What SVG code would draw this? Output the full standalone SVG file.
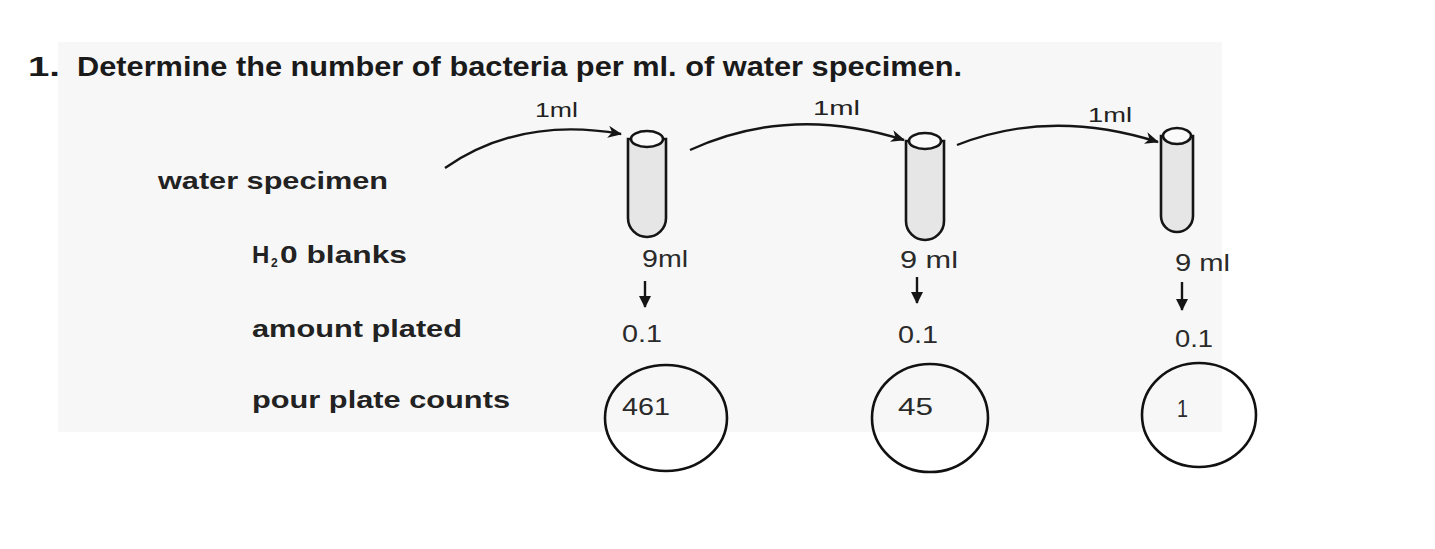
<svg xmlns="http://www.w3.org/2000/svg" width="1435" height="549" viewBox="0 0 1435 549">
<style>
.bold{font-family:"Liberation Sans",Arial,sans-serif;font-weight:bold;fill:#1a1a1a}
.lbl{font-family:"Liberation Sans",Arial,sans-serif;font-weight:bold;font-size:24px;fill:#222}
.val{font-family:"Liberation Sans",Arial,sans-serif;font-size:24px;fill:#2a2a2a}
.ml{font-family:"Liberation Sans",Arial,sans-serif;font-size:21px;fill:#222}
.tube{fill:#e6e6e6;stroke:#151515;stroke-width:2.6}
.cap{fill:#fafafa;stroke:#151515;stroke-width:2.6}
.plate{fill:none;stroke:#111;stroke-width:2.6}
.conn{fill:none;stroke:#151515;stroke-width:2.4}
</style>
<defs>
<marker id="ah" viewBox="0 0 14 12" markerWidth="14" markerHeight="12" refX="13" refY="6" orient="auto" markerUnits="userSpaceOnUse">
<path d="M0,0 L14,6 L0,12 L4,6 z" fill="#151515"/>
</marker>
<marker id="ahd" viewBox="0 0 12 12" markerWidth="12" markerHeight="12" refX="11" refY="6" orient="auto" markerUnits="userSpaceOnUse">
<path d="M0,0 L12,6 L0,12 z" fill="#151515"/>
</marker>
</defs>
<rect x="0" y="0" width="1435" height="549" fill="#ffffff"/>
<rect x="58" y="42" width="1164" height="390" fill="#f7f7f7"/>

<g id="title">
<text class="bold" x="28" y="76" font-size="28" textLength="32" lengthAdjust="spacingAndGlyphs">1.</text>
<text class="bold" x="77" y="76" font-size="27" textLength="885" lengthAdjust="spacingAndGlyphs">Determine the number of bacteria per ml. of water specimen.</text>
</g>

<g id="row-labels">
<text class="lbl" x="158" y="189" textLength="230" lengthAdjust="spacingAndGlyphs">water specimen</text>
<text class="lbl" y="263"><tspan x="252">H</tspan><tspan x="271" dy="4" font-size="12">2</tspan><tspan x="280" dy="-4" textLength="127" lengthAdjust="spacingAndGlyphs">0 blanks</tspan></text>
<text class="lbl" x="252" y="337" textLength="210" lengthAdjust="spacingAndGlyphs">amount plated</text>
<text class="lbl" x="252" y="408" textLength="258" lengthAdjust="spacingAndGlyphs">pour plate counts</text>
</g>

<g id="connectors">
<path class="conn" d="M445,168 Q520,116 621,134" marker-end="url(#ah)"/>
<path class="conn" d="M690,150 Q790,104 904,140" marker-end="url(#ah)"/>
<path class="conn" d="M957,145 Q1050,108 1158,142" marker-end="url(#ah)"/>
<line class="conn" x1="645" y1="281" x2="645" y2="307" marker-end="url(#ahd)"/>
<line class="conn" x1="917" y1="277" x2="917" y2="303" marker-end="url(#ahd)"/>
<line class="conn" x1="1182" y1="282" x2="1182" y2="310" marker-end="url(#ahd)"/>
<text class="ml" x="535" y="117" textLength="43" lengthAdjust="spacingAndGlyphs">1ml</text>
<text class="ml" x="813" y="115" textLength="47" lengthAdjust="spacingAndGlyphs">1ml</text>
<text class="ml" x="1088" y="122" textLength="44" lengthAdjust="spacingAndGlyphs">1ml</text>
</g>

<g id="tube1">
<path class="tube" d="M628,139 V218 A19,19 0 0 0 666,218 V139 Z"/>
<ellipse class="cap" cx="647" cy="139" rx="16" ry="8"/>
<text class="val" x="642" y="267" textLength="46" lengthAdjust="spacingAndGlyphs">9ml</text>
<text class="val" x="622" y="342" textLength="40" lengthAdjust="spacingAndGlyphs">0.1</text>
</g>

<g id="tube2">
<path class="tube" d="M906,141 V221 A19,19 0 0 0 944,221 V141 Z"/>
<ellipse class="cap" cx="925" cy="141" rx="16" ry="8"/>
<text class="val" x="900" y="268" textLength="58" lengthAdjust="spacingAndGlyphs">9 ml</text>
<text class="val" x="898" y="343" textLength="40" lengthAdjust="spacingAndGlyphs">0.1</text>
</g>

<g id="tube3">
<path class="tube" d="M1161,136 V216 A16,16 0 0 0 1193,216 V136 Z"/>
<ellipse class="cap" cx="1177" cy="136" rx="14" ry="8"/>
<text class="val" x="1175" y="271" textLength="55" lengthAdjust="spacingAndGlyphs">9 ml</text>
<text class="val" x="1175" y="347" textLength="38" lengthAdjust="spacingAndGlyphs">0.1</text>
</g>

<g id="plate1">
<ellipse class="plate" cx="666" cy="418" rx="61" ry="53"/>
<text class="val" x="622" y="415" textLength="48" lengthAdjust="spacingAndGlyphs">461</text>
</g>
<g id="plate2">
<ellipse class="plate" cx="930" cy="418" rx="58" ry="54"/>
<text class="val" x="898" y="415" textLength="35" lengthAdjust="spacingAndGlyphs">45</text>
</g>
<g id="plate3">
<ellipse class="plate" cx="1199" cy="415" rx="57" ry="52"/>
<text class="val" x="1177" y="417" font-size="21" fill="#555" textLength="11" lengthAdjust="spacingAndGlyphs">1</text>
</g>
</svg>
